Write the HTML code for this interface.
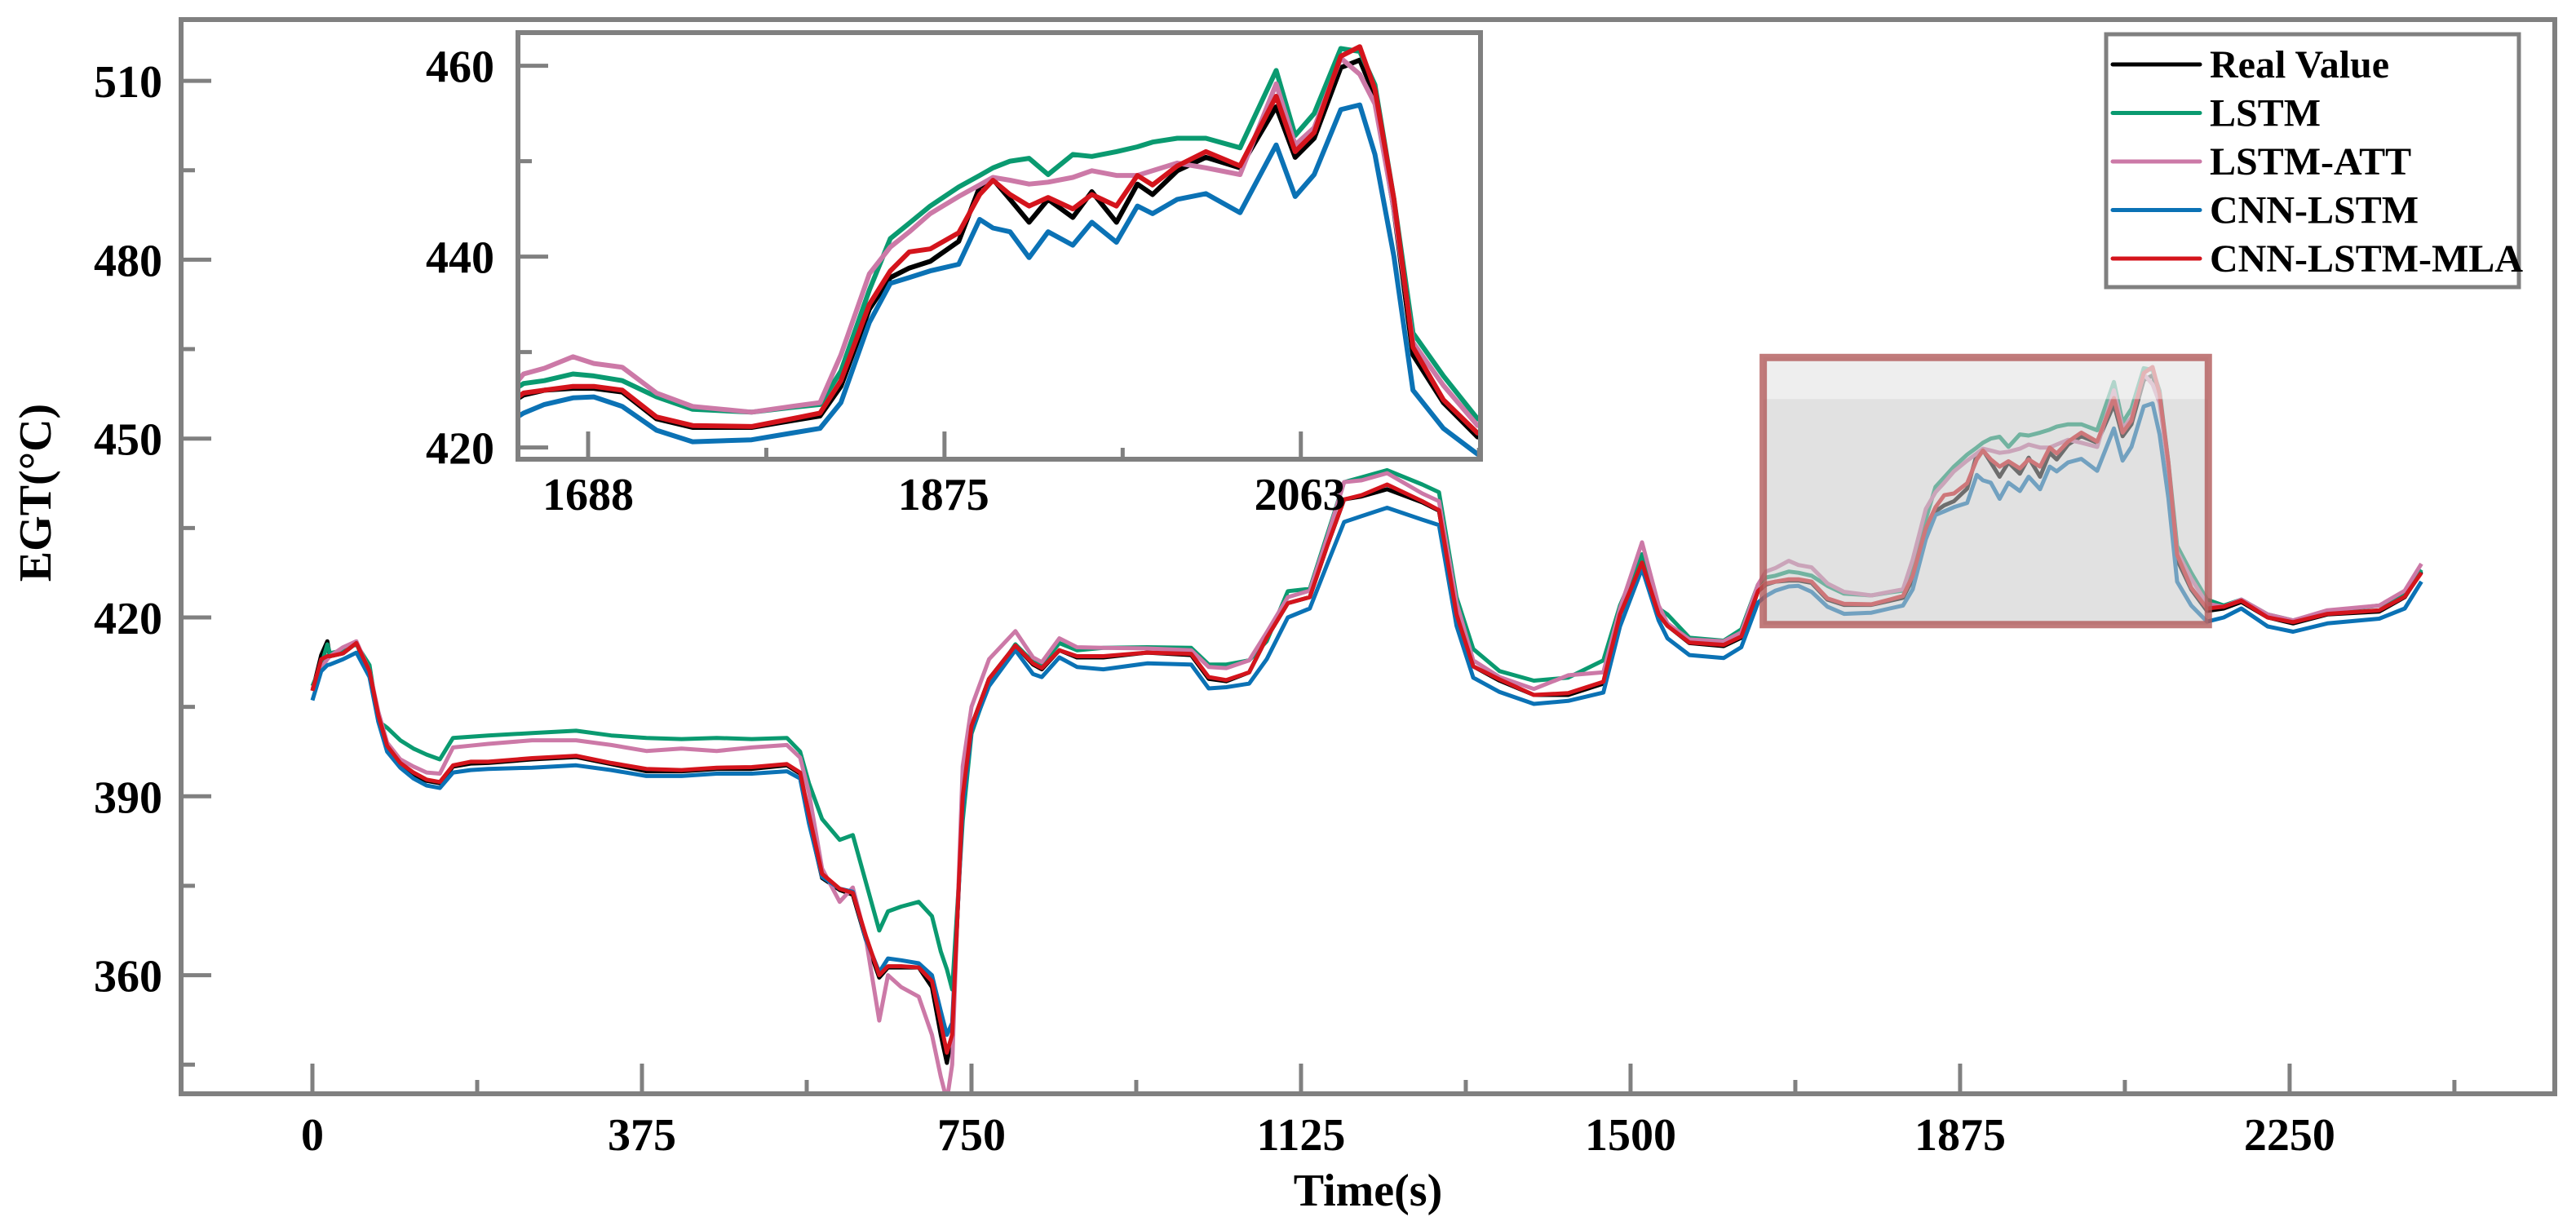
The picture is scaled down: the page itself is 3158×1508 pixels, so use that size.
<!DOCTYPE html>
<html><head><meta charset="utf-8"><style>
html,body{margin:0;padding:0;background:#fff;}
svg{display:block;}
text{font-family:"Liberation Serif",serif;font-weight:bold;fill:#000;}
</style></head>
<body>
<svg id="chart" width="3158" height="1508" viewBox="0 0 3158 1508" xmlns="http://www.w3.org/2000/svg">
<defs>
<clipPath id="mainClip"><rect x="222" y="24" width="2910" height="1317"/></clipPath>
<clipPath id="insetClip"><rect x="635" y="40" width="1180" height="523"/></clipPath>
</defs>
<rect x="0" y="0" width="3158" height="1508" fill="#fff"/>
<g id="mainLines" clip-path="url(#mainClip)"></g>
<g id="zoomBox"></g>
<g id="axes"></g>
<g id="inset"></g>
<g id="legend"></g>
<text x="1677" y="1478" font-size="56" text-anchor="middle">Time(s)</text>
<text transform="translate(62,604) rotate(-90)" font-size="56" text-anchor="middle">EGT(°C)</text>
</svg>
<script>
const times=[0,10,17,20,35,50,65,75,85,100,115,130,145,160,180,200,250,300,340,380,420,460,500,540,555,565,580,600,615,630,645,655,670,690,705,715,722,728,740,750,770,800,820,830,850,870,900,950,1000,1020,1040,1066,1086,1110,1135,1155,1174,1194,1223,1263,1282,1302,1321,1351,1390,1429,1469,1488,1513,1532,1542,1567,1606,1626,1645,1654,1665,1680,1691,1706,1724,1743,1774,1795,1810,1821,1836,1847,1857,1868,1883,1894,1901,1910,1920,1930,1943,1953,1966,1977,1985,1998,2013,2031,2050,2060,2070,2084,2094,2102,2112,2122,2138,2156,2175,2195,2225,2254,2293,2352,2381,2400];
const realValue=[407.7,413.7,416.0,413.5,414.0,415.7,410.5,403.4,398.2,395.4,393.5,392.6,392.2,395.0,395.5,395.6,396.2,396.6,395.4,394.2,394.2,394.6,394.6,395.2,393.8,385.9,376.3,374.3,373.5,365.9,359.6,361.3,361.3,361.3,358.0,350.0,345.3,350.0,390.0,401.8,409.7,415.3,412.1,411.3,414.5,413.3,413.3,414.1,413.7,409.7,409.3,410.8,416.6,422.4,423.4,432.1,439.8,440.3,441.5,439.3,437.9,420.5,411.8,409.4,407.0,407.0,408.9,420.5,429.2,420.5,418.6,415.7,415.2,416.6,424.4,425.5,426.0,426.2,426.2,425.8,423.0,422.1,422.1,422.8,423.3,426.4,434.5,437.8,438.8,439.5,441.6,447.3,448.1,446.0,443.6,446.0,444.1,446.8,443.6,447.6,446.5,449.0,450.4,449.3,455.7,450.4,452.4,459.8,460.6,456.8,444.9,429.7,424.7,421.1,421.5,422.6,420.0,419.0,420.5,421.0,423.4,427.7];
const lstm=[408.5,412,415.5,414.0,414.5,415.5,412.0,402.6,401.5,399.4,398.0,397.0,396.2,399.8,400.0,400.2,400.6,401.0,400.2,399.8,399.6,399.8,399.6,399.8,397.5,392.2,386.2,382.7,383.5,375.5,367.5,370.7,371.5,372.3,369.9,364.0,361.0,357.6,385.9,400.5,409.0,415.5,412.5,412.0,415.7,414.5,414.9,415.0,414.9,412.1,412.1,412.8,416.0,424.4,424.8,434.0,442.7,443.5,444.7,442.3,441.0,423.4,414.7,411.0,409.4,409.9,412.8,422.0,430.6,421.5,420.5,416.6,416.1,418.0,425.5,426.7,427.0,427.7,427.5,427.0,425.3,424.0,423.7,424.2,424.5,428.0,436.5,441.9,443.5,445.3,447.3,448.5,449.3,450.0,450.3,448.6,450.7,450.5,451.0,451.5,452.0,452.4,452.4,451.4,459.5,452.7,455.0,461.8,461.5,458.0,446.0,432.0,427.5,423.0,422.0,423.0,420.5,419.5,421.0,422.0,424.0,428.0];
const lstmAtt=[408.0,411.5,413.0,413.5,415.0,416.0,411.0,404.2,399.0,396.2,395.0,394.0,393.8,398.2,398.5,398.8,399.4,399.4,398.6,397.6,398.0,397.6,398.2,398.6,396.5,390.6,377.9,372.3,374.7,366.0,352.4,360.0,358.0,356.4,350.0,343.0,339.0,345.0,395.0,405.0,413.0,417.7,413.3,412.5,416.5,415.0,414.9,414.8,414.5,411.7,411.5,412.8,417.5,423.4,424.5,433.5,442.7,443.0,444.2,440.8,439.5,422.5,412.8,410.0,408.0,410.3,410.8,421.5,432.6,422.0,419.0,416.3,416.0,417.5,425.5,427.7,428.3,429.5,428.8,428.4,425.7,424.3,423.7,424.3,424.7,429.7,438.2,441.0,442.6,444.5,446.3,447.5,448.3,448.0,447.6,447.8,448.3,449.0,448.5,448.5,449.0,449.8,449.3,448.6,458.1,451.7,453.5,460.8,459.1,456.0,445.0,431.0,426.5,422.3,421.8,423.0,420.5,419.5,421.2,422.0,424.5,429.0];
const cnnLstm=[406.1,411.0,412.0,412.1,413.0,414.1,410.0,402.5,397.5,394.8,393.0,391.8,391.4,394.0,394.4,394.6,394.8,395.2,394.4,393.4,393.4,393.8,393.8,394.2,393.0,385.5,376.5,374.5,374.0,366.0,360.5,362.8,362.5,362.0,360.0,354.0,350.0,352.0,388.0,401.0,408.5,414.5,410.5,410.0,413.3,411.7,411.3,412.3,412.1,408.1,408.3,408.9,413.0,420.0,421.5,429.0,436.0,437.0,438.4,436.4,435.5,418.6,409.9,407.5,405.5,406.0,407.4,418.5,428.2,419.5,416.5,413.7,413.2,415.0,422.5,423.6,424.5,425.2,425.3,424.3,421.8,420.6,420.8,421.5,422.0,424.7,433.1,437.2,437.8,438.5,439.2,443.9,443.0,442.6,439.9,442.6,441.2,443.6,441.5,445.3,444.5,446.0,446.6,444.6,451.7,446.3,448.6,455.4,455.9,450.7,440.0,426.0,422.0,419.3,420.0,421.5,418.5,417.6,419.0,419.8,421.5,426.0];
const cnnLstmMla=[407.7,413.0,413.5,413.5,414.0,415.7,411.0,403.6,398.5,395.6,394.0,392.8,392.4,395.2,395.8,395.8,396.4,396.8,395.6,394.6,394.4,394.8,394.9,395.4,394.0,387.0,377.0,374.5,373.8,366.5,360.0,361.5,361.5,361.3,359.0,352.0,347.0,350.0,390.0,401.8,409.7,415.3,412.3,411.5,414.5,413.5,413.5,414.1,413.9,410.0,409.5,410.8,416.6,422.4,423.4,432.1,439.8,440.5,442.3,439.5,438.0,420.5,411.8,409.6,407.0,407.3,409.2,420.5,429.2,420.5,418.6,415.8,415.4,416.8,424.4,425.7,426.0,426.4,426.4,426.0,423.2,422.3,422.2,423.0,423.6,427.0,435.0,438.5,440.5,440.8,442.5,446.5,448.0,446.5,445.3,446.2,445.0,446.5,445.3,448.5,447.5,449.5,451.0,449.5,456.8,451.0,453.0,461.0,462.0,457.5,446.0,430.5,425.0,421.5,421.8,422.8,420.0,419.2,420.6,421.2,423.5,427.5];
const seriesNames=["Real Value","LSTM","LSTM-ATT","CNN-LSTM","CNN-LSTM-MLA"];
const xTickLabels=[0,375,750,1125,1500,1875,2250];
const yTickLabels=[360,390,420,450,480,510];
const insetXTickLabels=[1688,1875,2063];
const insetYTickLabels=[420,440,460];

const NS="http://www.w3.org/2000/svg";
const colors=["#000000","#0a9a70","#cc79a7","#0b72b5","#d4141c"];
const slugs=["real-value","lstm","lstm-att","cnn-lstm","cnn-lstm-mla"];
const allSeries=[realValue,lstm,lstmAtt,cnnLstm,cnnLstmMla];
function mk(tag,attrs,parent){const e=document.createElementNS(NS,tag);for(const k in attrs)e.setAttribute(k,attrs[k]);parent.appendChild(e);return e;}
const X=t=>383+t*1.0773;
const Y=v=>757-(v-420)*7.31;
const IX=t=>721+(t-1688)*2.33;
const IY=v=>80.6+(460-v)*11.7;
const GRAY="#808080";

const mainG=document.getElementById('mainLines');
allSeries.forEach((s,i)=>{
  const d=s.map((v,j)=>(j?'L':'M')+X(times[j]).toFixed(1)+','+Y(v).toFixed(1)).join('');
  const p=mk('path',{d:d,fill:'none',stroke:colors[i],'stroke-width':5,'stroke-linejoin':'round'},mainG);
  
  
});

const zb=document.getElementById('zoomBox');
const bx1=X(1651),bx2=X(2157.5),by1=Y(463.6),by2=Y(418.8);
const r1=mk('rect',{x:bx1,y:by1,width:bx2-bx1,height:by2-by1,fill:'rgba(200,200,200,0.55)'},zb);


const r2=mk('rect',{x:bx1,y:by1,width:bx2-bx1,height:51,fill:'rgba(255,255,255,0.45)'},zb);


const r3=mk('rect',{x:bx1,y:by1,width:bx2-bx1,height:by2-by1,fill:'none',stroke:'rgba(178,90,90,0.8)','stroke-width':9},zb);



const ax=document.getElementById('axes');
const fr=mk('rect',{x:222,y:24,width:2910,height:1317,fill:'none',stroke:GRAY,'stroke-width':6},ax);


for(let t=0;t<=2437.5;t+=187.5){
  const major=(t%375===0);
  const l=mk('line',{x1:X(t),x2:X(t),y1:1341,y2:1341-(major?37:17),stroke:GRAY,'stroke-width':5},ax);
  
  
}
xTickLabels.forEach(t=>{
  const e=mk('text',{x:X(t),y:1410,'font-size':56,'text-anchor':'middle'},ax);e.textContent=t;
  
  
});
for(let v=345;v<=510;v+=15){
  const major=(v%30===0);
  const l=mk('line',{x1:222,x2:222+(major?37:17),y1:Y(v),y2:Y(v),stroke:GRAY,'stroke-width':5},ax);
  
  
}
yTickLabels.forEach(v=>{
  const e=mk('text',{x:199,y:Y(v)+20,'font-size':56,'text-anchor':'end'},ax);e.textContent=v;
  
  
});

const ins=document.getElementById('inset');
const bg=mk('rect',{x:635,y:40,width:1180,height:523,fill:'#fff'},ins);


const ig=mk('g',{'clip-path':'url(#insetClip)'},ins);


allSeries.forEach((s,i)=>{
  const d=s.map((v,j)=>(j?'L':'M')+IX(times[j]).toFixed(1)+','+IY(v).toFixed(1)).join('');
  const p=mk('path',{d:d,fill:'none',stroke:colors[i],'stroke-width':6,'stroke-linejoin':'round'},ig);
  
  
});
for(let t=1688;t<=2157;t+=93.75){
  const major=(Math.round((t-1688)/93.75)%2===0);
  const l=mk('line',{x1:IX(t),x2:IX(t),y1:563,y2:563-(major?34:14),stroke:GRAY,'stroke-width':5},ins);
  
  
}
for(let v=420;v<=460;v+=10){
  const major=(v%20===0);
  const l=mk('line',{x1:635,x2:635+(major?37:17),y1:IY(v),y2:IY(v),stroke:GRAY,'stroke-width':5},ins);
  
  
}
const ifr=mk('rect',{x:635,y:40,width:1180,height:523,fill:'none',stroke:GRAY,'stroke-width':6},ins);


insetXTickLabels.forEach((t,i)=>{
  const e=mk('text',{x:IX([1688,1875,2062.5][i]),y:625,'font-size':56,'text-anchor':'middle'},ins);e.textContent=t;
  
  
});
insetYTickLabels.forEach(v=>{
  const e=mk('text',{x:606,y:IY(v)+20,'font-size':56,'text-anchor':'end'},ins);e.textContent=v;
  
  
});

const lg=document.getElementById('legend');
const lb=mk('rect',{x:2582,y:42,width:506,height:310,fill:'#fff',stroke:GRAY,'stroke-width':5},lg);


seriesNames.forEach((n,i)=>{
  const y=79+i*59.5;
  const g=mk('g',{},lg);
  
  
  mk('line',{x1:2590,x2:2697,y1:y,y2:y,stroke:colors[i],'stroke-width':5,'stroke-linecap':'round'},g);
  const t=mk('text',{x:2709,y:y+16,'font-size':48},g);t.textContent=n;
});
</script>
</body></html>
